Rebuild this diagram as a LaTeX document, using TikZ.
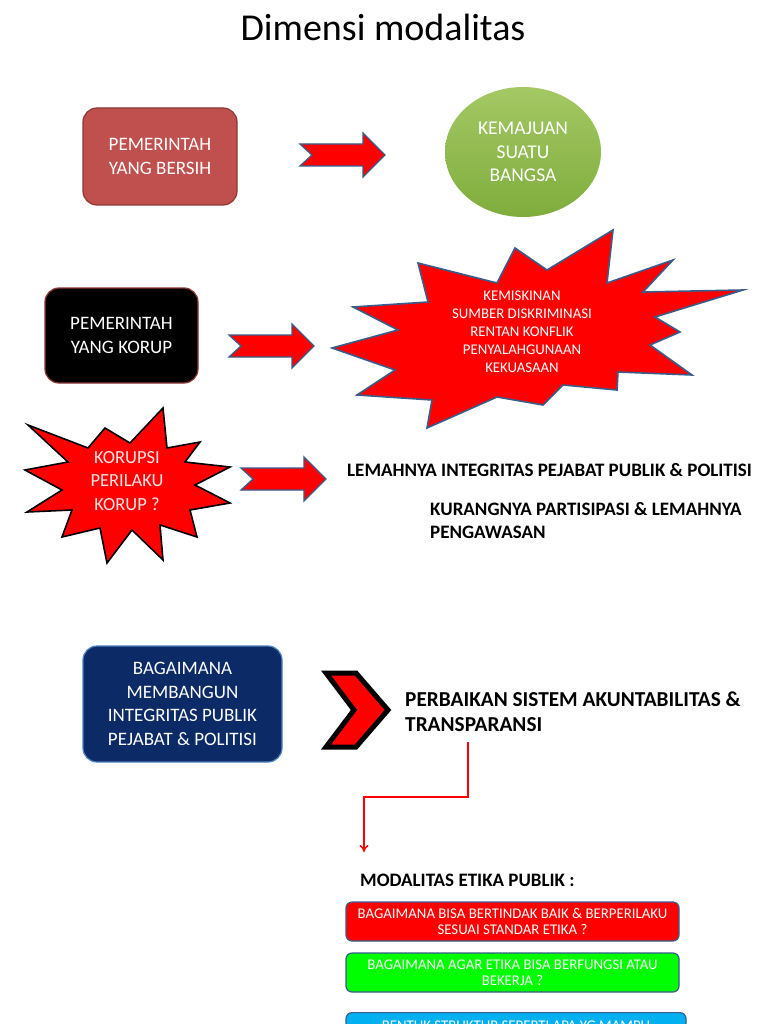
\documentclass[tikz,border=0pt]{standalone}
\usepackage{fontspec}
\setmainfont{Carlito}
\usetikzlibrary{arrows.meta,shapes.geometric}
\definecolor{boxred}{HTML}{C0504D}
\definecolor{boxredline}{HTML}{8C3836}
\definecolor{outlineblue}{HTML}{385D8A}
\definecolor{navy}{HTML}{0B2A66}
\definecolor{navyline}{HTML}{4F81BD}
\definecolor{greentop}{HTML}{A4C865}
\definecolor{greenbot}{HTML}{7FAD3C}
\definecolor{pinktext}{HTML}{FBE4E4}
\definecolor{brightgreen}{HTML}{00FF00}
\definecolor{cyanbox}{HTML}{00B0F0}
\tikzset{
  arrowshape/.style={draw=outlineblue, line width=1.3pt, fill=red, line join=miter},
  notchedarrow/.pic={\path[arrowshape] (0,-11) -- (63,-11) -- (63,-22) -- (85,0) -- (63,22) -- (63,11) -- (0,11) -- (12,0) -- cycle;},
  bigbox/.style={rounded corners=14pt, line width=1.2pt, minimum width=#1, align=center, text=white, font=\fontsize{19}{23.5}\selectfont},
  burst/.style={fill=red, line width=1.6pt, line join=miter},
  bolddark/.style={font=\fontsize{19}{23}\selectfont\bfseries, text=black, anchor=west, align=left, inner sep=0pt},
  smallbox/.style={draw=outlineblue, line width=1.2pt, rounded corners=6pt, minimum width=333pt, minimum height=39pt, align=center, text=white, font=\fontsize{14.8}{16.5}\selectfont, inner sep=0pt},
  conn/.style={draw=red, line width=1.5pt, -{To[length=7pt,width=9pt]}}
}
\begin{document}
\begin{tikzpicture}[x=1pt,y=-1pt]
\useasboundingbox (0,0) rectangle (768,1024);
\clip (0,0) rectangle (768,1024);
\fill[white] (0,0) rectangle (768,1024);

% title
\node[font=\fontsize{38}{42}\selectfont] (title) at (383,27) {Dimensi modalitas};

% row 1
\node[bigbox=154pt, minimum height=97pt, draw=boxredline, fill=boxred] (bersih) at (160,156.5) {PEMERINTAH\\YANG BERSIH};
\pic (arr1) at (300,155) {notchedarrow};
\node[ellipse, minimum width=156pt, minimum height=130pt, top color=greentop, bottom color=greenbot, draw=none, align=center, text=white, font=\fontsize{19.5}{23.5}\selectfont] (kemajuan) at (523,152) {KEMAJUAN\\SUATU\\BANGSA};

% row 2
\node[bigbox=153pt, minimum height=95pt, draw=boxredline, fill=black] (korup) at (121.5,335.5) {PEMERINTAH\\YANG KORUP};
\pic (arr2) at (229,346) {notchedarrow};
\path[burst, draw=outlineblue]
  (418,263) -- (497,283) -- (515,248) -- (547,270) -- (613,230) -- (607,283) -- (673,260) -- (643,292)
  -- (743,290) -- (655,317) -- (680,332) -- (650,345) -- (692,375) -- (618,372) -- (617,390)
  -- (563,385) -- (543,405) -- (497,397) -- (427,428) -- (432,400) -- (357,395) -- (395,370)
  -- (332,348) -- (398,330) -- (353,307) -- (428,302) -- cycle;
\node[align=center, text=white, font=\fontsize{14.8}{18}\selectfont] (akibat) at (522,332)
  {KEMISKINAN\\SUMBER DISKRIMINASI\\RENTAN KONFLIK\\PENYALAHGUNAAN\\KEKUASAAN};

% row 3
\path[burst, draw=black]
  (28,425) -- (88,448) -- (105,428) -- (130,443) -- (163,408) -- (167,448) -- (200,442) -- (185,462)
  -- (230,467) -- (195,485) -- (230,503) -- (190,510) -- (197,537) -- (160,525) -- (163,560)
  -- (132,530) -- (107,563) -- (100,528) -- (62,537) -- (72,510) -- (27,512) -- (62,490)
  -- (25,470) -- (68,462) -- cycle;
\node[align=center, text=pinktext, font=\fontsize{18.5}{23.5}\selectfont] (korupsi) at (127,481) {KORUPSI\\PERILAKU\\KORUP ?};
\pic (arr3) at (241,479) {notchedarrow};
\node[bolddark] (lemah) at (347,470) {LEMAHNYA INTEGRITAS PEJABAT PUBLIK \& POLITISI};
\node[bolddark] (kurang) at (430,521) {KURANGNYA PARTISIPASI \& LEMAHNYA\\PENGAWASAN};

% row 4
\node[bigbox=199pt, minimum height=116pt, draw=navyline, fill=navy] (bagaimana) at (182.5,704) {BAGAIMANA\\MEMBANGUN\\INTEGRITAS PUBLIK\\PEJABAT \& POLITISI};
\path[draw=black, line width=5pt, fill=red, line join=miter] (326,673) -- (356,673) -- (388,710) -- (356,747) -- (326,747) -- (354,710) -- cycle;
\node[bolddark, font=\fontsize{21.3}{25}\selectfont\bfseries] (perbaikan) at (405,712) {PERBAIKAN SISTEM AKUNTABILITAS \&\\TRANSPARANSI};

% connector
\coordinate (ctop) at (468,742);
\coordinate (cbend) at (364,797);
\coordinate (cend) at (364,852);
\draw[conn] (ctop) |- (cbend) -- (cend);

% modalitas
\node[bolddark] (modalitas) at (360,880) {MODALITAS ETIKA PUBLIK :};
\node[smallbox, fill=red] (etika1) at (512.5,921.5) {BAGAIMANA BISA BERTINDAK BAIK \& BERPERILAKU\\SESUAI STANDAR ETIKA ?};
\node[smallbox, fill=brightgreen] (etika2) at (512.5,972.5) {BAGAIMANA AGAR ETIKA BISA BERFUNGSI ATAU\\BEKERJA ?};
\node[smallbox, fill=cyanbox, minimum width=340pt, anchor=north] (etika3) at (516,1012) {};
\node[text=white, font=\fontsize{14.8}{16.5}\selectfont, inner sep=0pt] (etika3text) at (516,1026) {BENTUK STRUKTUR SEPERTI APA YG MAMPU};
\end{tikzpicture}
\end{document}
